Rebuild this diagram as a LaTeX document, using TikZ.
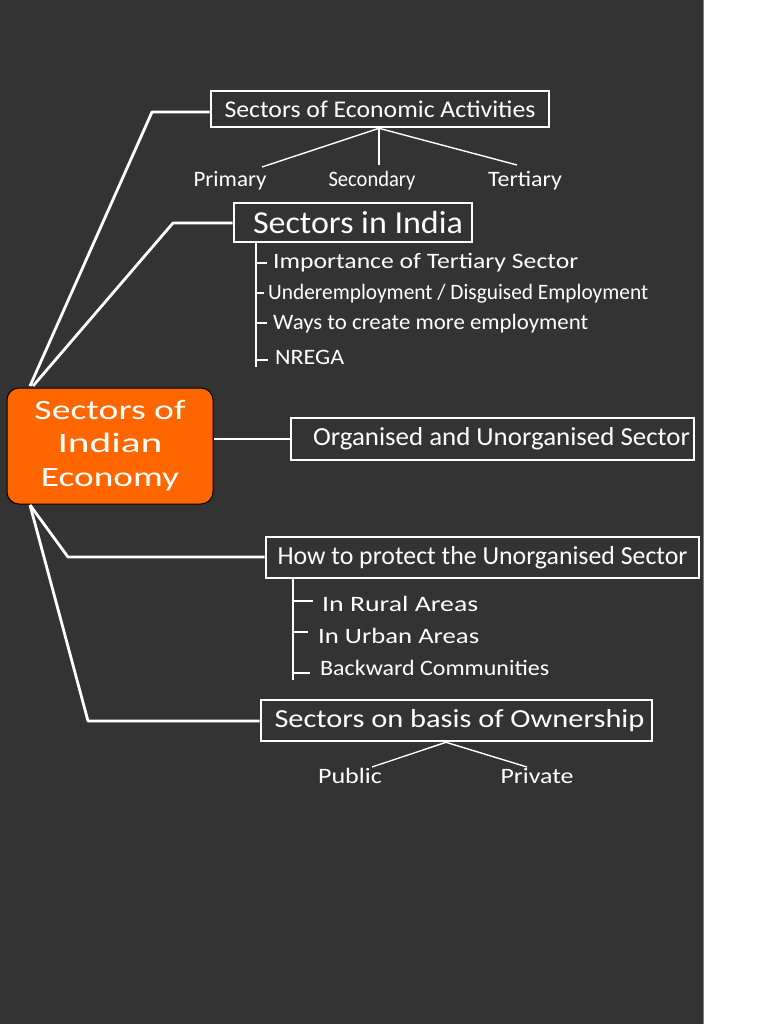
\documentclass[tikz,border=0pt]{standalone}
\usepackage{fontspec}
\setmainfont{Carlito}
\usepackage{graphicx}
\definecolor{bg}{HTML}{333333}
\definecolor{org}{HTML}{FF6600}
\newcommand{\tw}[2]{\resizebox{#1}{\height}{#2}}
\newcommand{\fs}[1]{\fontsize{#1}{#1}\selectfont}
\tikzset{
  box/.style={draw=white, line width=2.6pt, inner sep=0pt, text=white, anchor=center},
  lbl/.style={inner sep=0pt, text=white},
  conn/.style={draw=white, line width=2.8pt, line join=round},
  thin/.style={draw=white, line width=1.4pt},
  spine/.style={draw=white, line width=1.8pt},
  central/.style={fill=org, draw=black, line width=1pt, rounded corners=12pt, minimum width=206pt, minimum height=116pt, text=white, inner sep=0pt}
}
\begin{document}
\begin{tikzpicture}[x=1pt,y=-1pt]
\useasboundingbox (0,0) rectangle (768,1024);
\fill[bg] (0,0) rectangle (703,1024);
\fill[white] (703,0) rectangle (768,1024);
\draw[gray, line width=1pt] (703.5,0) -- (703.5,1024);

% central node
\node[central] (c) at (110,446) {\fontsize{28}{33.5}\selectfont\begin{tabular}{@{}c@{}}\tw{151pt}{Sectors of}\\\tw{105pt}{Indian}\\\tw{138pt}{Economy}\end{tabular}};

% boxes
\node[box, minimum width=338pt, minimum height=36pt] (b1) at (380,109) {\fs{24}\tw{311pt}{Sectors of Economic Activities}};
\node[box, minimum width=238pt, minimum height=39pt] (b2) at (353,222.5) {\fs{32}\hspace{10pt}\tw{210pt}{Sectors in India}};
\node[box, minimum width=403pt, minimum height=42pt] (b3) at (492.5,439) {\fs{26}\hspace{18pt}\tw{377pt}{Organised and Unorganised Sector}};
\node[box, minimum width=433pt, minimum height=41pt] (b4) at (482.5,557.5) {\fs{26}\tw{410pt}{How to protect the Unorganised Sector}};
\node[box, minimum width=391pt, minimum height=41pt] (b5) at (456.5,720.5) {\fs{26}\hspace{6pt}\tw{370pt}{Sectors on basis of Ownership}};

% labels under box1
\node[lbl] (prim) at (230,181) {\fs{22}\tw{73pt}{Primary}};
\node[lbl] (sec) at (372,181) {\fs{22}\tw{87pt}{Secondary}};
\node[lbl] (ter) at (525,181) {\fs{22}\tw{74pt}{Tertiary}};

% list under box2
\node[lbl, anchor=west] (i1) at (273,263) {\fs{22}\tw{305pt}{Importance of Tertiary Sector}};
\node[lbl, anchor=west] (i2) at (268,294) {\fs{22}\tw{380pt}{Underemployment / Disguised Employment}};
\node[lbl, anchor=west] (i3) at (273,324) {\fs{22}\tw{315pt}{Ways to create more employment}};
\node[lbl, anchor=west] (i4) at (275,357) {\fs{22}\tw{69pt}{NREGA}};

% list under box4
\node[lbl, anchor=west] (j1) at (322,604) {\fs{22}\tw{156pt}{In Rural Areas}};
\node[lbl, anchor=west] (j2) at (318,636) {\fs{22}\tw{161pt}{In Urban Areas}};
\node[lbl, anchor=west] (j3) at (320,668) {\fs{22}\tw{229pt}{Backward Communities}};

% labels under box5
\node[lbl] (pub) at (350,776) {\fs{22}\tw{64pt}{Public}};
\node[lbl] (priv) at (537,776) {\fs{22}\tw{73pt}{Private}};

% connector coordinates
\coordinate (k1) at (152,112);
\coordinate (k2) at (173,223);
\coordinate (k4) at (68,557);
\coordinate (k5) at (88,721);
\coordinate (ctop1) at (30,386);
\coordinate (ctop2) at (33,386);
\coordinate (cbot) at (30,505);

\draw[conn] (ctop1) -- (k1) -- (b1.west |- k1);
\draw[conn] (ctop2) -- (k2) -- (b2.west |- k2);
\draw[conn] (c.east |- b3.west) -- (b3.west);
\draw[conn] (cbot) -- (k4) -- (b4.west |- k4);
\draw[conn] (cbot) -- (k5) -- (b5.west |- k5);

% branches box1
\draw[thin] (b1.south -| 379,0) -- (262,167);
\draw[thin] (b1.south -| 379,0) -- (379,165);
\draw[thin] (b1.south -| 379,0) -- (517,165);

% spine box2
\coordinate (s2a) at (256,242);
\coordinate (s2b) at (256,367);
\draw[spine] (s2a) -- (s2b);
\draw[spine] (256,263) -- (267,263);
\draw[spine] (256,293) -- (264,293);
\draw[spine] (256,323) -- (267,323);
\draw[spine] (256,360) -- (268,360);

% spine box4
\coordinate (s4a) at (293,578);
\coordinate (s4b) at (293,680);
\draw[spine] (s4a) -- (s4b);
\draw[spine] (293,601) -- (313,601);
\draw[spine] (293,632) -- (308,632);
\draw[spine] (293,673) -- (310,673);

% branches box5
\draw[thin] (b5.south -| 446,0) -- (372,767);
\draw[thin] (b5.south -| 446,0) -- (527,767);
\end{tikzpicture}
\end{document}
